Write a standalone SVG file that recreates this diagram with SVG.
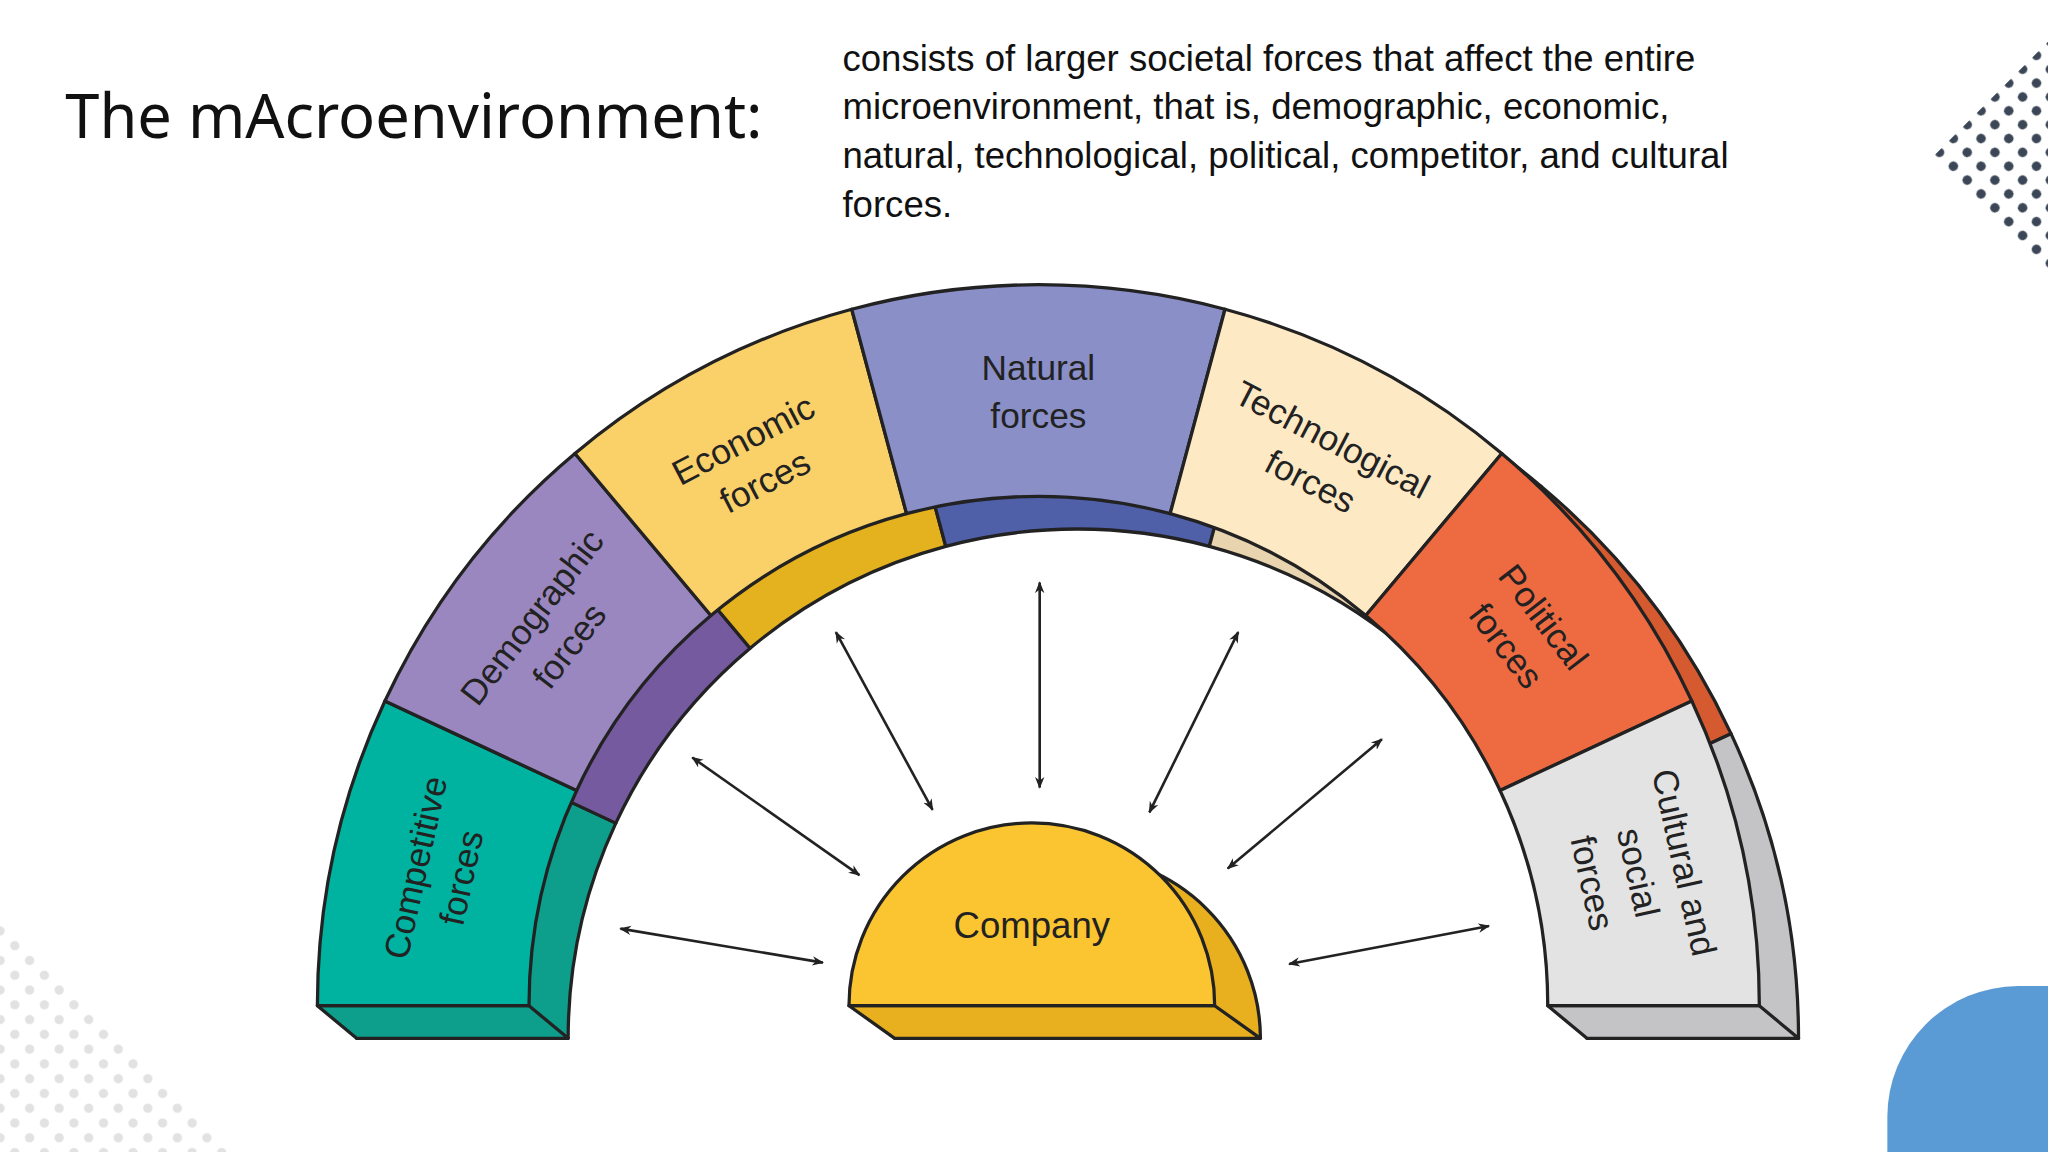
<svg xmlns="http://www.w3.org/2000/svg" width="2048" height="1152" viewBox="0 0 2048 1152">
<style>
.seg{stroke:#222;stroke-width:2.5;stroke-linejoin:round}
.lbl{font-family:"Liberation Sans",Arial,sans-serif;font-size:27px;fill:#222;text-anchor:middle}
.arr{stroke:#222;stroke-width:2;fill:none;marker-start:url(#ah);marker-end:url(#ah)}
.para{font-family:"Liberation Sans",Arial,sans-serif;font-size:28px;fill:#111}
</style>
<defs>
<marker id="ah" viewBox="0 0 10 10" refX="9" refY="5" markerWidth="9" markerHeight="9" orient="auto-start-reverse" markerUnits="userSpaceOnUse"><path d="M0,1 L10,5 L0,9 L3,5 Z" fill="#222"/></marker>
<pattern id="dk" width="15" height="15" patternUnits="userSpaceOnUse" patternTransform="rotate(45)"><circle cx="7.5" cy="7.5" r="3.6" fill="#3b4656"/></pattern>
<pattern id="lt" width="16" height="16" patternUnits="userSpaceOnUse" patternTransform="rotate(45)"><circle cx="8" cy="8" r="3.6" fill="#e2e2e2"/></pattern>
</defs>
<rect width="2048" height="1152" fill="#fff"/>
<g transform="scale(1.30612)">
<g id="decor">
<polygon points="1478,122 1568,32 1568,212" fill="url(#dk)"/>
<polygon points="0,700 180,882 0,882" fill="url(#lt)"/>
<path d="M1445,882 V855 A100,100 0 0 1 1545,755 H1568 V882 Z" fill="#5b9bd5"/>
</g>
<g id="title"><text x="50" y="106" style="font-family:'Noto Sans','Open Sans',sans-serif;font-size:47px;fill:#111">The mAcroenvironment:</text></g>
<g id="desc" class="para">
<text class="para" x="645" y="54">consists of larger societal forces that affect the entire</text>
<text class="para" x="645" y="91">microenvironment, that is, demographic, economic,</text>
<text class="para" x="645" y="129">natural, technological, political, competitor, and cultural</text>
<text class="para" x="645" y="166">forces.</text>
</g>
<g id="arch-back" transform="translate(30,25)">
<path class="seg" fill="#0e9e8c" d="M243,770 A552,552 0 0 1 294.7,536.7 L441.5,605.2 A390,390 0 0 0 405,770 Z"/>
<path class="seg" fill="#765aa0" d="M294.7,536.7 A552,552 0 0 1 440.2,347.2 L544.3,471.3 A390,390 0 0 0 441.5,605.2 Z"/>
<path class="seg" fill="#e5b21f" d="M440.2,347.2 A552,552 0 0 1 652.1,236.8 L694.1,393.3 A390,390 0 0 0 544.3,471.3 Z"/>
<path class="seg" fill="#4f5fa8" d="M652.1,236.8 A552,552 0 0 1 937.9,236.8 L895.9,393.3 A390,390 0 0 0 694.1,393.3 Z"/>
<path class="seg" fill="#e9d4b0" d="M937.9,236.8 A552,552 0 0 1 1149.8,347.2 L1045.7,471.3 A390,390 0 0 0 895.9,393.3 Z"/>
<path class="seg" fill="#d65a30" d="M1149.8,347.2 A552,552 0 0 1 1295.3,536.7 L1148.5,605.2 A390,390 0 0 0 1045.7,471.3 Z"/>
<path class="seg" fill="#c4c4c6" d="M1295.3,536.7 A552,552 0 0 1 1347,770 L1185,770 A390,390 0 0 0 1148.5,605.2 Z"/>
</g>
<polygon class="seg" fill="#0e9e8c" points="243,770 405,770 435,795 273,795"/>
<polygon class="seg" fill="#c4c4c6" points="1185,770 1347,770 1377,795 1215,795"/>
<g id="competitive"><path class="seg" fill="#00b3a0" d="M243,770 A552,552 0 0 1 294.7,536.7 L441.5,605.2 A390,390 0 0 0 405,770 Z"/>
<text class="lbl" transform="translate(335,668) rotate(-77.5)"><tspan x="0" y="-8">Competitive</tspan><tspan x="0" y="28">forces</tspan></text></g>
<g id="demographic"><path class="seg" fill="#9b87c0" d="M294.7,536.7 A552,552 0 0 1 440.2,347.2 L544.3,471.3 A390,390 0 0 0 441.5,605.2 Z"/>
<text class="lbl" transform="translate(421,483) rotate(-52.5)"><tspan x="0" y="-8">Demographic</tspan><tspan x="0" y="28">forces</tspan></text></g>
<g id="economic"><path class="seg" fill="#fad169" d="M440.2,347.2 A552,552 0 0 1 652.1,236.8 L694.1,393.3 A390,390 0 0 0 544.3,471.3 Z"/>
<text class="lbl" transform="translate(577,352) rotate(-27.5)"><tspan x="0" y="-8">Economic</tspan><tspan x="0" y="28">forces</tspan></text></g>
<g id="natural"><path class="seg" fill="#8a8fc8" d="M652.1,236.8 A552,552 0 0 1 937.9,236.8 L895.9,393.3 A390,390 0 0 0 694.1,393.3 Z"/>
<text class="lbl" transform="translate(795,301)"><tspan x="0" y="-10">Natural</tspan><tspan x="0" y="27">forces</tspan></text></g>
<g id="technological"><path class="seg" fill="#fde9c4" d="M937.9,236.8 A552,552 0 0 1 1149.8,347.2 L1045.7,471.3 A390,390 0 0 0 895.9,393.3 Z"/>
<text class="lbl" transform="translate(1012,352) rotate(27.5)"><tspan x="0" y="-8">Technological</tspan><tspan x="0" y="28">forces</tspan></text></g>
<g id="political"><path class="seg" fill="#ee6b42" d="M1149.8,347.2 A552,552 0 0 1 1295.3,536.7 L1148.5,605.2 A390,390 0 0 0 1045.7,471.3 Z"/>
<text class="lbl" transform="translate(1168,483) rotate(52.5)"><tspan x="0" y="-8">Political</tspan><tspan x="0" y="28">forces</tspan></text></g>
<g id="cultural"><path class="seg" fill="#e3e3e3" d="M1295.3,536.7 A552,552 0 0 1 1347,770 L1185,770 A390,390 0 0 0 1148.5,605.2 Z"/>
<text class="lbl" transform="translate(1255,668) rotate(77.5)"><tspan x="0" y="-26">Cultural and</tspan><tspan x="0" y="10">social</tspan><tspan x="0" y="46">forces</tspan></text></g>
<g id="company">
<path class="seg" fill="#e8b01e" d="M685,795 A140,140 0 0 1 965,795 Z"/>
<polygon class="seg" fill="#e8b01e" points="650,770 930,770 965,795 685,795"/>
<path class="seg" fill="#fbc531" d="M650,770 A140,140 0 0 1 930,770 Z"/>
<text class="lbl" x="790" y="718" style="font-size:28px">Company</text>
</g>
<g id="connectors">
<line class="arr" x1="475" y1="711" x2="630" y2="737"/>
<line class="arr" x1="530" y1="580" x2="658" y2="670"/>
<line class="arr" x1="640" y1="484" x2="714" y2="620"/>
<line class="arr" x1="796" y1="446" x2="796" y2="603"/>
<line class="arr" x1="948" y1="484" x2="880" y2="622"/>
<line class="arr" x1="1058" y1="566" x2="940" y2="665"/>
<line class="arr" x1="1140" y1="709" x2="987" y2="738"/>
</g>
</g>
</svg>
